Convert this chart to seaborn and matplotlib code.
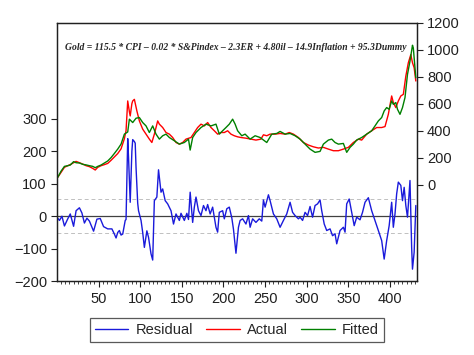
import matplotlib
matplotlib.use('Agg')
import matplotlib.pyplot as plt
import seaborn as sns
import pandas as pd
from matplotlib.ticker import MultipleLocator
from matplotlib.lines import Line2D

# residual series (left axis)
res_obs = [1, 3, 6, 9, 13, 16, 20, 23, 27, 30, 33, 36, 39, 44, 48, 52, 56, 61, 66, 69,
           71, 73, 75, 77, 79, 82, 83, 85, 86, 88, 90, 91, 93, 94, 95, 97, 98, 101, 103, 105,
           108, 110, 113, 115, 117, 120, 122, 125, 127, 130, 133, 137, 140, 143, 147, 149, 153, 156, 158, 160,
           163, 165, 167, 170, 173, 176, 179, 181, 184, 187, 191, 193, 195, 199, 201, 204, 207, 210, 212, 215,
           218, 220, 223, 227, 230, 232, 235, 239, 243, 246, 248, 250, 254, 256, 260, 264, 268, 272, 276, 280,
           283, 286, 290, 292, 295, 298, 301, 304, 307, 310, 313, 316, 318, 321, 324, 328, 331, 334, 336, 340,
           344, 346, 348, 351, 354, 357, 360, 364, 367, 370, 374, 378, 382, 386, 390, 393, 396, 399, 402, 404,
           406, 408, 410, 413, 415, 417, 419, 421, 424, 426, 427, 429, 431]
res_val = [-6, -13, 0, -30, -8, 7, -31, 17, 26, 10, -21, -6, -15, -46, -9, -7, -32, -39, -39, -55,
           -67, -50, -44, -58, -55, -13, -10, 239, 180, 43, 200, 236, 230, 225, 150, 40, 17, -13, -50, -96,
           -45, -65, -116, -135, 48, 59, 143, 74, 84, 48, 38, 17, -24, 7, -13, 9, -13, 9, -10, 74,
           -19, 28, 59, 17, 2, 33, 17, 36, 7, 28, -34, -49, 12, 17, -8, 23, 28, -5, -40, -114,
           -34, -13, -8, -24, 2, -34, -8, -19, -8, -15, 50, 28, 66, 48, 7, -8, -34, -13, 7, 43,
           12, 2, -8, -3, -13, 12, 2, 30, -3, 33, 38, 50, 17, -24, -44, -39, -60, -54, -85, -44,
           -34, -49, 38, 53, 12, -29, -3, -11, 12, 43, 57, 17, -13, -44, -75, -132, -75, -29, 43, -34,
           7, 69, 105, 95, 48, 89, 33, -3, 110, -96, -163, -111, 33]

# actual series (right axis)
act_obs = [1, 5, 9, 13, 16, 20, 23, 27, 31, 35, 39, 43, 46, 49, 53, 57, 61, 65, 69, 73,
           77, 81, 83, 85, 87, 88, 90, 91, 93, 96, 99, 103, 107, 111, 114, 117, 121, 123, 127, 131,
           135, 139, 143, 147, 151, 155, 161, 165, 169, 173, 177, 181, 185, 189, 193, 197, 201, 205, 209, 213,
           217, 221, 227, 233, 239, 245, 248, 252, 256, 262, 268, 274, 279, 284, 290, 296, 302, 308, 314, 320,
           326, 332, 338, 344, 350, 356, 362, 366, 372, 378, 384, 390, 394, 398, 402, 404, 407, 410, 413, 416,
           419, 422, 425, 427, 429, 431]
act_val = [54, 91, 128, 140, 148, 162, 172, 162, 152, 140, 133, 120, 108, 128, 140, 148, 157, 180, 205, 230,
           265, 340, 400, 620, 540, 509, 600, 620, 632, 546, 472, 411, 374, 337, 312, 374, 472, 448, 423, 386,
           374, 349, 312, 300, 312, 337, 349, 386, 423, 448, 435, 460, 423, 399, 374, 386, 386, 399, 374, 362,
           354, 349, 344, 337, 330, 337, 369, 362, 374, 374, 379, 374, 386, 374, 349, 312, 293, 280, 271, 276,
           263, 251, 251, 263, 276, 312, 337, 330, 374, 399, 423, 423, 430, 521, 657, 608, 571, 620, 657, 669,
           804, 903, 964, 903, 866, 768]

# fitted series (right axis)
fit_obs = [1, 5, 9, 13, 16, 20, 23, 27, 31, 35, 39, 43, 46, 49, 53, 57, 61, 65, 69, 73,
           77, 81, 85, 87, 91, 95, 99, 103, 107, 111, 115, 119, 123, 127, 131, 135, 141, 147, 153, 158,
           160, 163, 167, 173, 179, 185, 191, 195, 199, 203, 207, 211, 214, 217, 222, 226, 232, 238, 244, 252,
           258, 264, 268, 274, 280, 286, 292, 298, 304, 310, 316, 320, 326, 330, 334, 338, 344, 348, 352, 356,
           360, 366, 372, 378, 382, 386, 390, 393, 396, 399, 402, 404, 407, 409, 412, 415, 418, 421, 424, 427,
           428, 430, 431]
fit_val = [54, 100, 135, 140, 145, 170, 162, 160, 150, 146, 140, 135, 125, 135, 145, 160, 175, 200, 231, 263,
           300, 374, 390, 485, 460, 492, 497, 460, 435, 386, 435, 374, 337, 362, 374, 349, 325, 300, 312, 337,
           256, 349, 386, 423, 448, 435, 448, 374, 399, 423, 448, 485, 448, 399, 362, 374, 337, 362, 349, 312,
           374, 379, 394, 374, 379, 362, 337, 300, 263, 239, 246, 300, 330, 337, 312, 300, 305, 239, 276, 300,
           330, 349, 374, 399, 435, 472, 497, 546, 571, 558, 620, 595, 608, 558, 521, 571, 645, 817, 915, 1033,
           1013, 866, 792]

left_ticks = [-200, -100, 0, 100, 200, 300]
right_ticks = [0, 200, 400, 600, 800, 1000, 1200]
x_ticks = [50, 100, 150, 200, 250, 300, 350, 400]
se_band = 53
equation = "Gold = 115.5 * CPI \u2013 0.02 * S&Pindex \u2013 2.3ER + 4.80il \u2013 14.9Inflation + 95.3Dummy"

sns.set_style('ticks')
plt.rcParams['font.family'] = ['Liberation Sans', 'DejaVu Sans']

res_df = pd.DataFrame({'obs': res_obs, 'value': res_val})
act_df = pd.DataFrame({'obs': act_obs, 'value': act_val})
fit_df = pd.DataFrame({'obs': fit_obs, 'value': fit_val})

fig = plt.figure(figsize=(4.74, 3.55), dpi=100)
ax = fig.add_axes([0.121, 0.208, 0.758, 0.728])
ax2 = ax.twinx()

ax.axhline(0, color='#404040', lw=0.9, zorder=1)
ax.axhline(se_band, color='#c0c0c0', lw=0.7, ls=(0, (4, 3)), zorder=1)
ax.axhline(-se_band, color='#c0c0c0', lw=0.7, ls=(0, (4, 3)), zorder=1)
sns.lineplot(data=res_df, x='obs', y='value', ax=ax, color='#1a1adb', lw=1.0, zorder=3)
sns.lineplot(data=act_df, x='obs', y='value', ax=ax2, color='#ff0000', lw=1.0)
sns.lineplot(data=fit_df, x='obs', y='value', ax=ax2, color='#008000', lw=1.0)

ax.set_xlim(0.5, 432)
ax.set_ylim(-200, 596)
ax2.set_ylim(-716, 1200)
ax.set_yticks(left_ticks)
ax2.set_yticks(right_ticks)
ax.set_xticks(x_ticks)
ax.xaxis.set_minor_locator(MultipleLocator(5))
for a in (ax, ax2):
    a.set_xlabel('')
    a.set_ylabel('')
    for s in a.spines.values():
        s.set_visible(True)
        s.set_color('#202020')
        s.set_linewidth(0.9)
ax.tick_params(axis='both', which='major', labelsize=10.5, length=4, width=0.8, colors='#202020')
ax.tick_params(axis='x', which='minor', length=2, width=0.6)
ax2.tick_params(axis='y', labelsize=10.5, length=4, width=0.8, colors='#202020')

ax.text(0.497, 0.905, equation, transform=ax.transAxes, ha='center', va='center',
        fontsize=6.9, style='italic', weight='bold',
        family=['Liberation Serif', 'DejaVu Serif'])

handles = [Line2D([], [], color='#1a1adb', lw=1.0),
           Line2D([], [], color='#ff0000', lw=1.0),
           Line2D([], [], color='#008000', lw=1.0)]
leg = fig.legend(handles, ['Residual', 'Actual', 'Fitted'], loc='center', bbox_to_anchor=(0.5, 0.07),
                 ncol=3, fontsize=10.5, frameon=True, fancybox=False, handlelength=2.3,
                 columnspacing=0.9, handletextpad=0.5, borderpad=0.35)
leg.get_frame().set_edgecolor('#303030')
leg.get_frame().set_linewidth(0.9)

fig.savefig('out.png', dpi=100)
